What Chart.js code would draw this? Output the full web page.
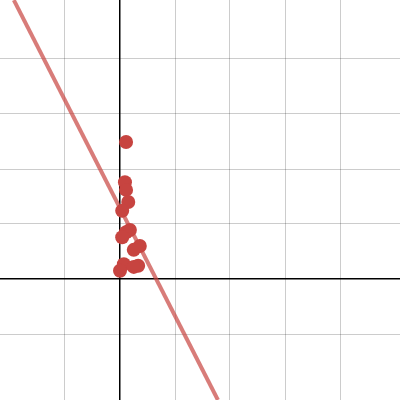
<!DOCTYPE html>
<html>
<head>
<script src="https://cdn.jsdelivr.net/npm/chart.js@4"></script>
<style>html,body{margin:0;padding:0;background:#fff}</style>
</head>
<body>
<div style="width:400px;height:400px"><canvas id="c"></canvas></div>
<script>
const xs = [0.11, 0.09, 0.11, 0.15, 0.04, 0.18, 0.11, 0.04, 0.36, 0.25, 0.07, 0.33, 0.25, 0.0];
const ys = [2.49, 1.76, 1.62, 1.40, 1.24, 0.89, 0.85, 0.76, 0.60, 0.53, 0.27, 0.24, 0.22, 0.15];
const lineX = [-1.93, 1.78];
const lineY = [5.07, -2.2];

const pts = xs.map((x, i) => ({ x: x, y: ys[i] }));
const linePts = lineX.map((x, i) => ({ x: x, y: lineY[i] }));

function gridColor(ctx) {
  return ctx.tick && ctx.tick.value === 0 ? '#000' : 'rgba(0,0,0,0.2)';
}
function gridWidth(ctx) {
  return ctx.tick && ctx.tick.value === 0 ? 1.5 : 1;
}
function intTicks(scale) {
  scale.ticks = scale.ticks.filter(t => Math.abs(t.value - Math.round(t.value)) < 1e-6);
}

new Chart(document.getElementById('c'), {
  type: 'scatter',
  data: {
    datasets: [
      {
        data: linePts, showLine: true, pointRadius: 0,
        borderColor: 'rgba(199,68,64,0.7)', borderWidth: 4
      },
      {
        data: pts, pointRadius: 7, pointBackgroundColor: '#c74440',
        pointBorderWidth: 0, borderColor: '#c74440'
      }
    ]
  },
  options: {
    animation: false,
    maintainAspectRatio: false,
    layout: { padding: 0, autoPadding: false },
    plugins: { legend: { display: false }, tooltip: { enabled: false } },
    scales: {
      x: {
        min: -120 / 55, max: 280 / 55,
        ticks: { display: false, stepSize: 1, padding: 0 },
        afterBuildTicks: intTicks,
        border: { display: false },
        grid: { color: gridColor, lineWidth: gridWidth, drawTicks: false, tickLength: 0 }
      },
      y: {
        min: -121 / 55, max: 279 / 55,
        ticks: { display: false, stepSize: 1, padding: 0 },
        afterBuildTicks: intTicks,
        border: { display: false },
        grid: { color: gridColor, lineWidth: gridWidth, drawTicks: false, tickLength: 0 }
      }
    }
  }
});
</script>
</body>
</html>
